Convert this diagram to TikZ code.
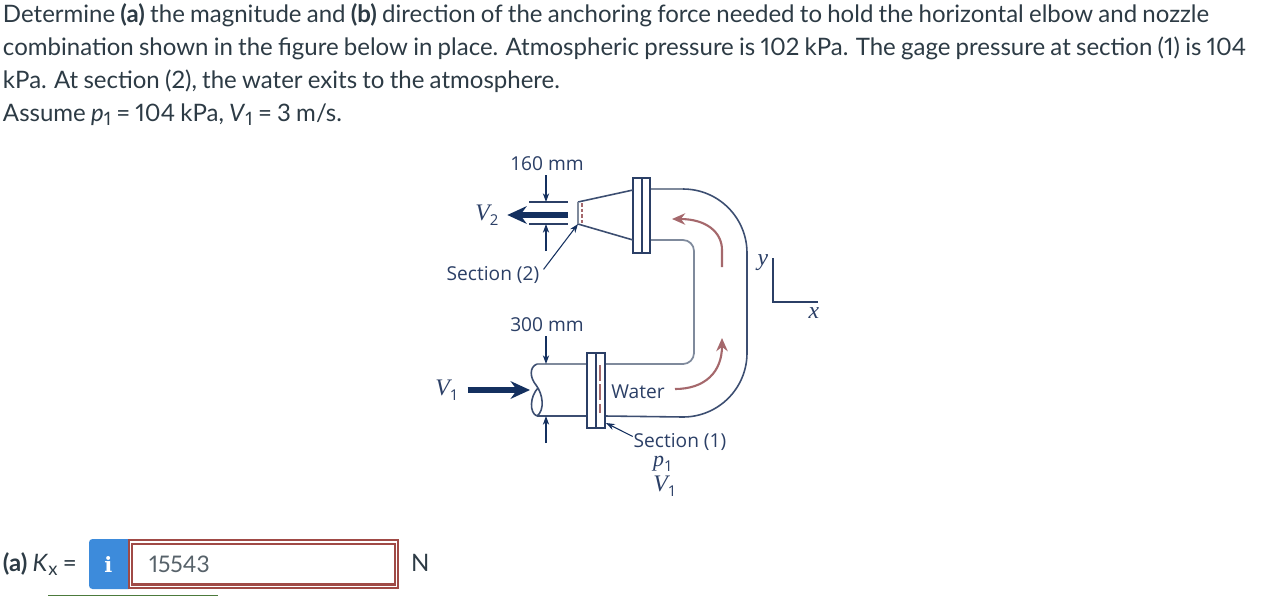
\documentclass[tikz,border=0pt]{standalone}
\usepackage{fontspec}
\usepackage{tikz}
\usetikzlibrary{arrows.meta}
\setmainfont{Lato}[Numbers=Proportional,WordSpace=0.85]
\newfontfamily\figfont{Open Sans}
\newfontfamily\figserif{Liberation Serif}
\newfontfamily\iconfont{DejaVu Serif}
\definecolor{canvastext}{HTML}{2D3B45}
\definecolor{figblue}{HTML}{2B3F66}
\definecolor{figdark}{HTML}{14305F}
\definecolor{pipegrey}{HTML}{7F8A9C}
\definecolor{flowred}{HTML}{A5686C}
\definecolor{boxred}{HTML}{A04A46}
\definecolor{infoblue}{HTML}{3D8BDB}
\definecolor{rulegreen}{HTML}{4C7A3C}
\newcommand{\lowsub}[1]{\raisebox{-0.4ex}{\fontsize{10.5pt}{12pt}\selectfont #1}}
\newcommand{\figsub}[1]{\raisebox{-0.5ex}{\fontsize{8.5pt}{10pt}\selectfont\upshape\figfont #1}}
\tikzset{
  every node/.style={inner sep=0pt,outer sep=0pt},
  qtext/.style={anchor=base west,text=canvastext,font=\fontsize{13.67pt}{16pt}\selectfont},
  figlabel/.style={text=figblue,font=\fontsize{10.9pt}{12pt}\selectfont\figfont},
  varlabel/.style={text=figblue,font=\fontsize{13.5pt}{14pt}\selectfont\figserif\itshape},
  pipeline/.style={draw=figblue!80!pipegrey,line width=0.9pt},
  innerline/.style={draw=pipegrey,line width=1pt},
  thinline/.style={draw=figblue,line width=0.7pt},
  dimarrow/.style={draw=figdark,line width=0.6pt,-{Stealth[length=5pt,width=3.6pt]}},
  bigarrow/.style={draw=figdark,line width=2.9pt,-{Stealth[length=11pt,width=10pt]}},
  flowarrow/.style={draw=flowred,line width=1.2pt,-{Stealth[length=7.5pt,width=6.5pt]}},
  reddash/.style={draw=flowred,line width=0.8pt,dashed,dash pattern=on 9pt off 2pt}
}
\begin{document}
\begin{tikzpicture}[x=0.02cm,y=-0.02cm]
\useasboundingbox[fill=white] (0,0) rectangle (1262,596);
%question
\node[qtext] (line1) at (3,22) {Determine \textbf{(a)} the magnitude and \textbf{(b)} direction of the anchoring force needed to hold the horizontal elbow and nozzle};
\node[qtext] (line2) at (3,55) {combination shown in the figure below in place. Atmospheric pressure is 102 kPa. The gage pressure at section (1) is 104};
\node[qtext] (line3) at (3,88) {kPa. At section (2), the water exits to the atmosphere.};
\node[qtext] (line4) at (3,121) {Assume \textit{p}\lowsub{1} = 104 kPa, \textit{V}\lowsub{1} = 3 m/s.};
%pipe
\draw[innerline] (650,189)--(683,189);
\draw[pipeline] (683,189) arc (-90:0:64) --(747,353) arc (0:90:64) --(605,416);
\draw[innerline] (650,240)--(683,240) arc (-90:0:11) --(694,353) arc (0:90:11) --(605,364);
\draw[innerline] (587,364)--(537,364);
\draw[pipeline] (587,416)--(537,416);
\draw[pipeline] (537,364) .. controls (529,367) and (530,378) .. (536,385) .. controls (543,394) and (545,410) .. (537,416);
\draw[pipeline] (537,416) .. controls (529,413) and (530,396) .. (538,388);
%flanges
\draw[thinline,fill=white] (633,178) rectangle (650,253);
\draw[thinline] (642,178)--(642,253);
\draw[thinline,fill=white] (587,353) rectangle (605,428);
\draw[thinline] (596,353)--(596,428);
\draw[reddash] (600,365)--(600,413);
%nozzle
\draw[pipeline] (633,190)--(578,202);
\draw[pipeline] (633,240)--(578,224);
\draw[innerline] (578,202)--(578,224);
\draw[draw=flowred,line width=0.6pt,dashed,dash pattern=on 2pt off 1.2pt] (582,203)--(582,224);
\coordinate (nozzleEnd) at (578,224);
%160 mm
\node[figlabel] (dimA) at (547,164) {160 mm};
\coordinate (dimAtop) at (546,202);
\coordinate (dimAbot) at (546,224);
\coordinate (dimAfoot) at (546,251);
\draw[thinline] (529,202)--(568,202);
\draw[thinline] (529,224)--(568,224);
\draw[dimarrow,shorten <=2.5pt] (dimA.south -| dimAtop) -- (dimAtop);
\draw[dimarrow] (dimAfoot) -- (dimAbot);
\coordinate (jetStart) at (568,215);
\node[varlabel] (vtwo) at (487,215) {V\figsub{2}};
\draw[bigarrow,shorten >=5pt] (jetStart) -- (vtwo.east);
\node[figlabel] (secB) at (493,275) {Section (2)};
\draw[dimarrow,shorten <=4pt] (secB.east) -- (nozzleEnd);
%300 mm
\node[figlabel] (dimB) at (547,325) {300 mm};
\coordinate (dimBtop) at (546,364);
\coordinate (dimBbot) at (546,416);
\coordinate (dimBfoot) at (546,443);
\draw[dimarrow,shorten <=2.5pt] (dimB.south -| dimBtop) -- (dimBtop);
\draw[dimarrow] (dimBfoot) -- (dimBbot);
\node[varlabel] (vone) at (447,390) {V\figsub{1}};
\coordinate (jetEnd) at (530,390);
\draw[bigarrow] (vone.east) ++(9,0) -- (jetEnd);
%flow
\node[figlabel] (water) at (638,392) {Water};
\draw[flowarrow] (675,389) .. controls (705,389) and (722,372) .. (722,338);
\draw[flowarrow] (722,267)--(722,250) .. controls (722,232) and (706,219) .. (672,219);
%section 1
\node[figlabel] (secA) at (680,441.5) {Section (1)};
\node[varlabel,font=\fontsize{12.5pt}{13pt}\selectfont\figserif\itshape] (pone) at (663,464) {p\figsub{1}};
\node[varlabel] (vsec) at (665,486) {V\figsub{1}};
\coordinate (flangeCorner) at (606,423);
\draw[dimarrow] (secA.west) ++(-1,-5) -- (flangeCorner);
%axes
\coordinate (orig) at (773,302);
\node[varlabel] (ylab) at (763,263) {y};
\node[varlabel] (xlab) at (814,313) {x};
\draw[thinline] (773,258)--(orig)--(818,302);
%answer
\node[qtext] (ansA) at (3,571) {\textbf{(a)} \textit{K}\lowsub{x} =};
\fill[infoblue,rounded corners=2pt] (89,539) rectangle (132,589);
\node[text=white,font=\fontsize{12pt}{14pt}\selectfont\iconfont\bfseries] (infoI) at (108.5,564) {i};
\draw[fill=white,draw=boxred,line width=1.5pt] (129,540) rectangle (398,588);
\draw[draw=boxred,line width=1.5pt] (132,544) rectangle (395,584.5);
\node[anchor=base west,text=canvastext!80,font=\fontsize{13pt}{16pt}\selectfont] (ansval) at (149,572) {15543};
\node[qtext] (unit) at (411,571) {N};
\draw[rulegreen,line width=0.8pt] (48,595.5)--(218,595.5);
\end{tikzpicture}
\end{document}
